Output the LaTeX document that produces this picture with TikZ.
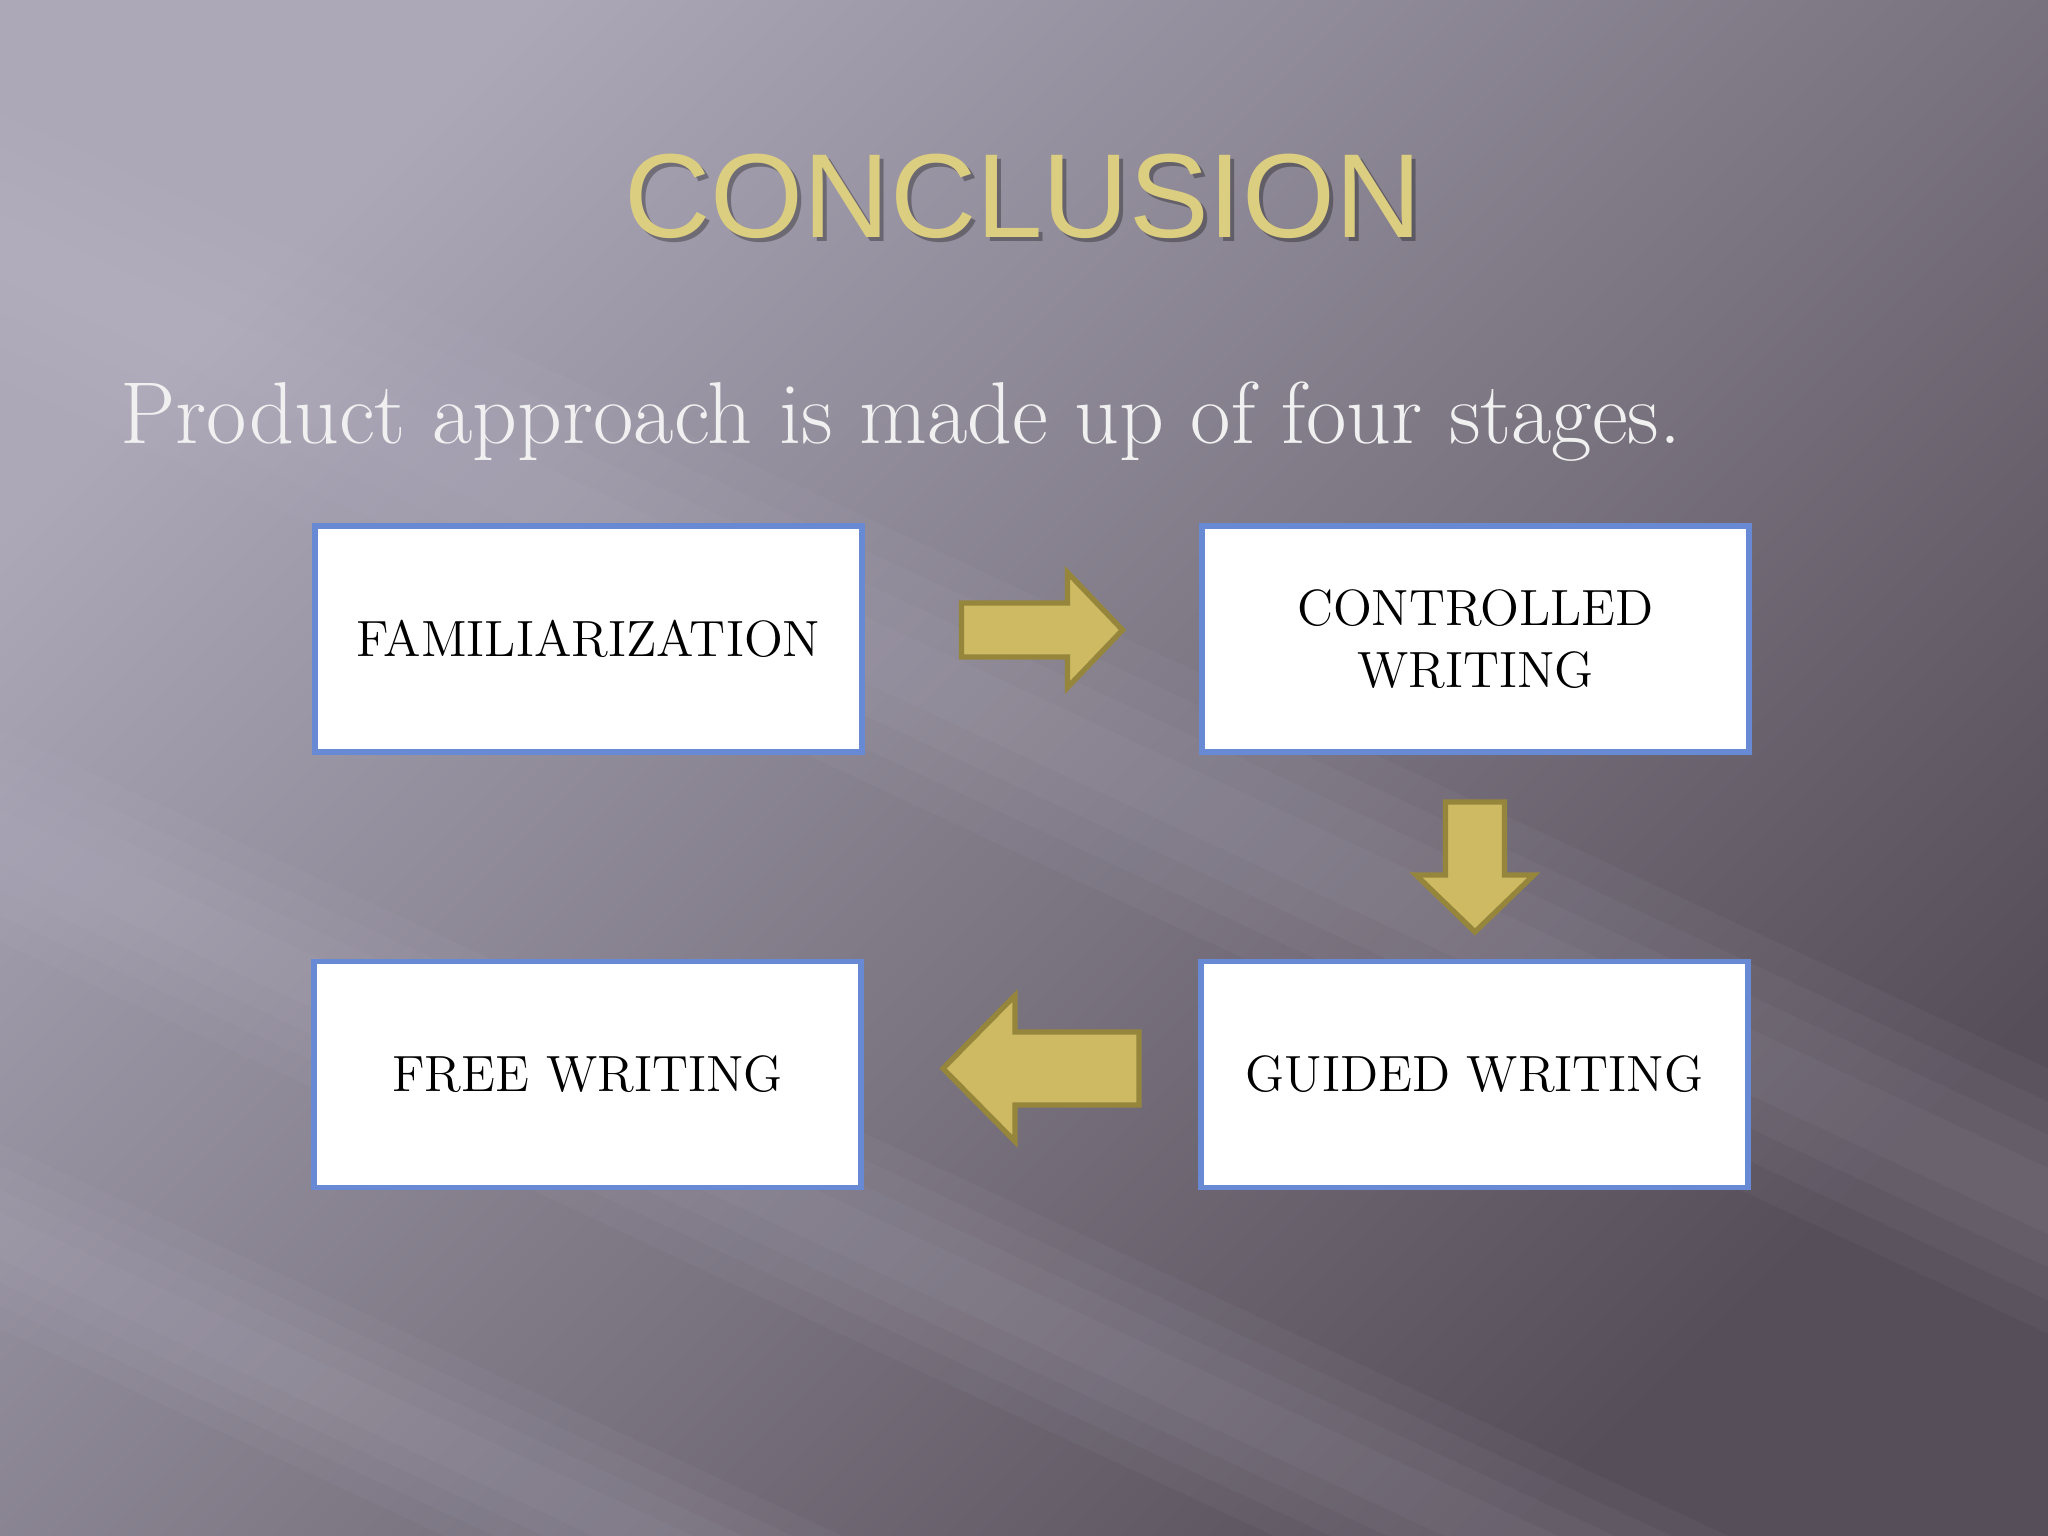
\documentclass[tikz,border=0pt]{standalone}
\usepackage{fontspec}
\newfontfamily\titlefont{Liberation Sans}
\usetikzlibrary{calc}
\definecolor{bgtop}{RGB}{172,168,184}
\definecolor{bgmid}{RGB}{122,114,128}
\definecolor{bgbot}{RGB}{86,78,88}
\definecolor{streak}{RGB}{200,196,214}
\definecolor{boxblue}{RGB}{104,138,212}
\definecolor{gold}{RGB}{205,186,98}
\definecolor{golddark}{RGB}{150,134,60}
\definecolor{titlegold}{RGB}{220,206,128}
\def\blockarrow(#1)[#2](#3:#4:#5:#6){%
  \begin{scope}[shift={(#1)},rotate=#2]
    \draw[goldarrow] ({-#3/2},{-#4}) -- ({#3/2-#6},{-#4}) -- ({#3/2-#6},{-#5}) -- ({#3/2},0)
      -- ({#3/2-#6},{#5}) -- ({#3/2-#6},{#4}) -- ({-#3/2},{#4}) -- cycle;
  \end{scope}}
\tikzset{
  stagebox/.style={draw=boxblue, line width=1.6pt, fill=white, minimum width=5.47cm,
    minimum height=2.26cm, inner sep=0pt, align=center,
    font=\fontsize{14.5}{17.5}\selectfont},
  goldarrow/.style={fill=gold, draw=golddark, line width=1.5pt, line join=miter},
  titletext/.style={text=titlegold, font=\titlefont\fontsize{34}{40}\selectfont, anchor=base}
}

\begin{document}
\begin{tikzpicture}
		%%%%% BACKGROUND %%%%%
		\useasboundingbox (0,0) rectangle (20.48,15.36);
		\shade[top color=bgtop, middle color=bgmid, bottom color=bgbot, shading angle=45]
			(0,0) rectangle (20.48,15.36);
		\begin{scope}
			\clip (0,0) rectangle (20.48,15.36);
			\foreach \y/\s in {12.9/1.0, 7.0/0.8, 3.0/0.7} {
				\foreach \w in {0.3,0.6,...,1.5} {
					\fill[streak, opacity=0.05, rotate around={-25:(0,\y)}]
						(-2,\y-\s*\w) rectangle (30,\y+\s*\w);
				}
			}
		\end{scope}
		
		%%%%% TITLE %%%%%
		\node[titletext, text=black, opacity=0.3] (titleshadow) at (10.27,12.94) {CONCLUSION};
		\node[titletext] (title) at (10.23,12.98) {CONCLUSION};
		\node[anchor=base west, text=white!94!black, font=\fontsize{25}{30}\selectfont] (intro)
			at (1.08,10.92) {Product approach is made up of four stages.};
		
		%%%%% STAGES %%%%%
		\node[stagebox] (fam) at (5.885,8.97) {FAMILIARIZATION};
		\node[stagebox] (ctrl) at (14.755,8.97) {CONTROLLED\\WRITING};
		\node[stagebox] (guided) at (14.745,4.615) {GUIDED WRITING};
		\node[stagebox] (free) at (5.875,4.615) {FREE WRITING};
		
		\coordinate (toctrl) at ($(fam.east)!0.53!(ctrl.west)+(0,0.09)$);
		\coordinate (toguided) at ($(ctrl.south)!0.55!(guided.north)$);
		\coordinate (tofree) at ($(guided.west)!0.47!(free.east)+(0,0.06)$);
		
		\blockarrow(toctrl)[0](1.61:0.27:0.575:0.55)
		\blockarrow(toguided)[-90](1.30:0.295:0.59:0.57)
		\blockarrow(tofree)[180](1.96:0.365:0.73:0.72)
		
		%%%%% END %%%%%
	\end{tikzpicture}
\end{document}
